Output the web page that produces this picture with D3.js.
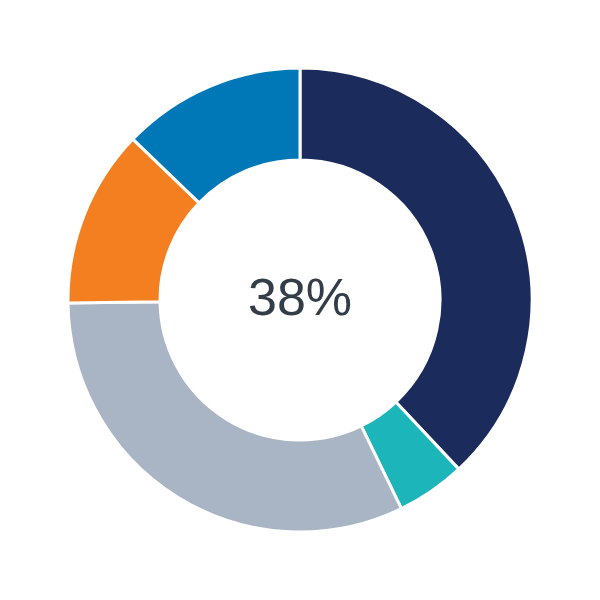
<!DOCTYPE html>
<html>
<head>
<meta charset="utf-8">
<script src="https://cdn.jsdelivr.net/npm/d3@7"></script>
<style>
  body { margin: 0; background: #fff; }
</style>
</head>
<body>
<div id="chart"></div>
<script>
// slices, clockwise from 12 o'clock
const categories = ["A", "B", "C", "D", "E"];
const values = [38, 4.8, 32, 12.4, 12.8];
const colors = ["#1b2b5b", "#1cb5b9", "#a9b4c4", "#f47f20", "#0077b6"];
const centerLabel = "38%";

const width = 600, height = 600;
const outerR = 232, innerR = 140;

const data = categories.map((c, i) => ({ name: c, value: values[i] }));

const svg = d3.select("#chart")
    .append("svg")
    .attr("width", width)
    .attr("height", height);

const g = svg.append("g")
    .attr("transform", `translate(${width / 2}, ${height / 2})`);

const pie = d3.pie()
    .value(d => d.value)
    .sort(null);

const arc = d3.arc()
    .innerRadius(innerR)
    .outerRadius(outerR);

g.selectAll("path")
    .data(pie(data))
    .join("path")
    .attr("d", arc)
    .attr("fill", (d, i) => colors[i])
    .attr("stroke", "#fff")
    .attr("stroke-width", 3)
    .attr("stroke-linejoin", "round");

g.append("text")
    .attr("text-anchor", "middle")
    .attr("y", 15)
    .style("font-family", "'Liberation Sans', Arial, sans-serif")
    .style("font-size", "52px")
    .attr("fill", "#333d47")
    .text(centerLabel);
</script>
</body>
</html>
